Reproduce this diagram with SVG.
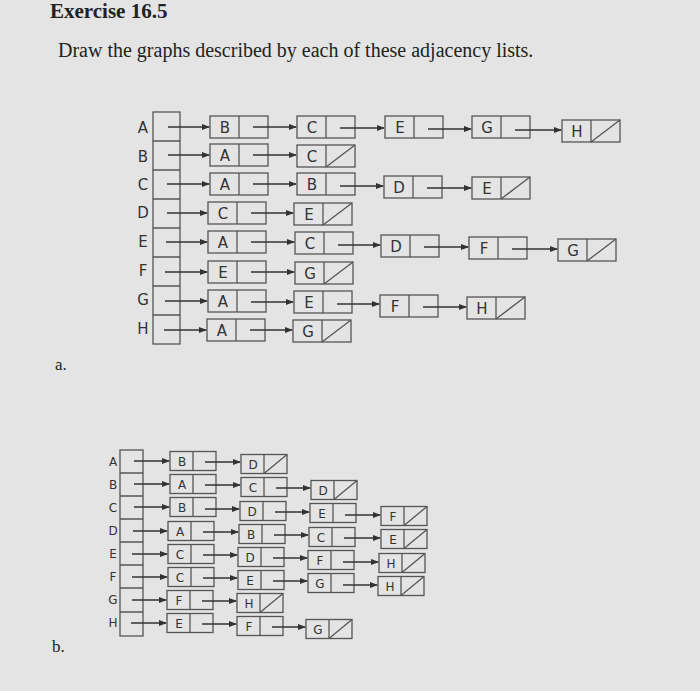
<svg xmlns="http://www.w3.org/2000/svg" xmlns:xlink="http://www.w3.org/1999/xlink" width="700" height="691" viewBox="0 0 700 691">
<style>
.t{font-family:"Liberation Serif",serif;fill:#222}
.bx{fill:none;stroke:#555;stroke-width:1.3}
.ar{stroke:#333;stroke-width:1.6;fill:none;marker-end:url(#m)}
.la{font-family:"DejaVu Sans",sans-serif;font-size:15px;fill:#333;text-anchor:middle}
.lb{font-family:"DejaVu Sans",sans-serif;font-size:12px;fill:#333;text-anchor:middle}
</style>
<defs>
<marker id="m" markerWidth="8" markerHeight="8" refX="7" refY="4" orient="auto" markerUnits="userSpaceOnUse"><path d="M0,1 L8,4 L0,7z" fill="#333"/></marker>
<g id="na"><rect class="bx" x="0" y="-11" width="58" height="22"/><line class="bx" x1="29" y1="-11" x2="29" y2="11"/></g>
<g id="za"><use xlink:href="#na"/><line class="bx" x1="29" y1="11" x2="58" y2="-11"/></g>
<g id="nb"><rect class="bx" x="0" y="-9.5" width="46" height="19"/><line class="bx" x1="23" y1="-9.5" x2="23" y2="9.5"/></g>
<g id="zb"><use xlink:href="#nb"/><line class="bx" x1="23" y1="9.5" x2="46" y2="-9.5"/></g>
</defs>
<rect width="700" height="691" fill="#e4e4e4"/>
<text class="t" x="50" y="18" font-size="21" font-weight="bold">Exercise 16.5</text>
<text class="t" x="58" y="57" font-size="20">Draw the graphs described by each of these adjacency lists.</text>
<text class="t" x="55" y="370" font-size="17">a.</text>
<text class="t" x="52" y="652" font-size="17">b.</text>

<g id="arrayA">
<rect class="bx" x="153" y="112" width="27" height="232"/>
<path class="bx" d="M153,141H180M153,170H180M153,199H180M153,228H180M153,257H180M153,286H180M153,315H180"/>
<g class="la"><text x="143" y="133">A</text><text x="143" y="162">B</text><text x="143" y="190">C</text><text x="143" y="218">D</text><text x="143" y="247">E</text><text x="143" y="276">F</text><text x="143" y="305">G</text><text x="143" y="334">H</text></g>
</g>
<g id="nodesA" class="la">
<use xlink:href="#na" x="210" y="127"/><text x="225" y="133">B</text>
<use xlink:href="#na" x="297" y="127"/><text x="312" y="133">C</text>
<use xlink:href="#na" x="385" y="127"/><text x="400" y="133">E</text>
<use xlink:href="#na" x="472" y="127"/><text x="487" y="133">G</text>
<use xlink:href="#za" x="562" y="131"/><text x="577" y="137">H</text>
<use xlink:href="#na" x="210" y="155"/><text x="225" y="161">A</text>
<use xlink:href="#za" x="297" y="156"/><text x="312" y="162">C</text>
<use xlink:href="#na" x="210" y="184"/><text x="225" y="190">A</text>
<use xlink:href="#na" x="297" y="184"/><text x="312" y="190">B</text>
<use xlink:href="#na" x="384" y="187"/><text x="399" y="193">D</text>
<use xlink:href="#za" x="472" y="188"/><text x="487" y="194">E</text>
<use xlink:href="#na" x="208" y="213"/><text x="223" y="219">C</text>
<use xlink:href="#za" x="294" y="214"/><text x="309" y="220">E</text>
<use xlink:href="#na" x="208" y="242"/><text x="223" y="248">A</text>
<use xlink:href="#na" x="295" y="243"/><text x="310" y="249">C</text>
<use xlink:href="#na" x="381" y="246"/><text x="396" y="252">D</text>
<use xlink:href="#na" x="469" y="248"/><text x="484" y="254">F</text>
<use xlink:href="#za" x="558" y="250"/><text x="573" y="256">G</text>
<use xlink:href="#na" x="208" y="272"/><text x="223" y="278">E</text>
<use xlink:href="#za" x="295" y="273"/><text x="310" y="279">G</text>
<use xlink:href="#na" x="208" y="301"/><text x="223" y="307">A</text>
<use xlink:href="#na" x="294" y="302"/><text x="309" y="308">E</text>
<use xlink:href="#na" x="380" y="306"/><text x="395" y="312">F</text>
<use xlink:href="#za" x="467" y="308"/><text x="482" y="314">H</text>
<use xlink:href="#na" x="207" y="330"/><text x="222" y="336">A</text>
<use xlink:href="#za" x="293" y="331"/><text x="308" y="337">G</text>
</g>

<g id="arrayB">
<rect class="bx" x="120" y="450" width="23" height="186"/>
<path class="bx" d="M120,473H143M120,496H143M120,519H143M120,542H143M120,565H143M120,588H143M120,612H143"/>
<g class="lb"><text x="113" y="466">A</text><text x="113" y="489">B</text><text x="113" y="512">C</text><text x="113" y="535">D</text><text x="113" y="558">E</text><text x="113" y="581">F</text><text x="113" y="604">G</text><text x="113" y="627">H</text></g>
</g>
<g id="nodesB" class="lb">
<use xlink:href="#nb" x="170" y="461"/><text x="182" y="466">B</text>
<use xlink:href="#zb" x="241" y="464"/><text x="253" y="469">D</text>
<use xlink:href="#nb" x="170" y="484"/><text x="182" y="489">A</text>
<use xlink:href="#nb" x="241" y="487"/><text x="253" y="492">C</text>
<use xlink:href="#zb" x="311" y="490"/><text x="323" y="495">D</text>
<use xlink:href="#nb" x="170" y="507"/><text x="182" y="512">B</text>
<use xlink:href="#nb" x="240" y="511"/><text x="252" y="516">D</text>
<use xlink:href="#nb" x="310" y="513"/><text x="322" y="518">E</text>
<use xlink:href="#zb" x="381" y="516"/><text x="393" y="521">F</text>
<use xlink:href="#nb" x="168" y="531"/><text x="180" y="536">A</text>
<use xlink:href="#nb" x="239" y="534"/><text x="251" y="539">B</text>
<use xlink:href="#nb" x="309" y="537"/><text x="321" y="542">C</text>
<use xlink:href="#zb" x="381" y="539"/><text x="393" y="544">E</text>
<use xlink:href="#nb" x="168" y="554"/><text x="180" y="559">C</text>
<use xlink:href="#nb" x="238" y="557"/><text x="250" y="562">D</text>
<use xlink:href="#nb" x="308" y="560"/><text x="320" y="565">F</text>
<use xlink:href="#zb" x="379" y="563"/><text x="391" y="568">H</text>
<use xlink:href="#nb" x="168" y="577"/><text x="180" y="582">C</text>
<use xlink:href="#nb" x="238" y="580"/><text x="250" y="585">E</text>
<use xlink:href="#nb" x="308" y="583"/><text x="320" y="588">G</text>
<use xlink:href="#zb" x="378" y="586"/><text x="390" y="591">H</text>
<use xlink:href="#nb" x="167" y="600"/><text x="179" y="605">F</text>
<use xlink:href="#zb" x="237" y="603"/><text x="249" y="608">H</text>
<use xlink:href="#nb" x="167" y="623"/><text x="179" y="628">E</text>
<use xlink:href="#nb" x="237" y="626"/><text x="249" y="631">F</text>
<use xlink:href="#zb" x="306" y="629"/><text x="318" y="634">G</text>
</g>

<g id="connectors">
<path class="ar" d="M168,127H209"/><path class="ar" d="M253,127H296"/><path class="ar" d="M340,128H384"/><path class="ar" d="M428,129H471"/><path class="ar" d="M515,130H561"/>
<path class="ar" d="M168,155H209"/><path class="ar" d="M253,155H296"/>
<path class="ar" d="M167,184H209"/><path class="ar" d="M253,184H296"/><path class="ar" d="M340,186H383"/><path class="ar" d="M427,188H471"/>
<path class="ar" d="M167,213H207"/><path class="ar" d="M251,213H293"/>
<path class="ar" d="M166,242H207"/><path class="ar" d="M251,242H294"/><path class="ar" d="M338,245H380"/><path class="ar" d="M424,247H468"/><path class="ar" d="M512,249H557"/>
<path class="ar" d="M165,272H207"/><path class="ar" d="M251,272H294"/>
<path class="ar" d="M165,301H207"/><path class="ar" d="M251,302H293"/><path class="ar" d="M337,304H379"/><path class="ar" d="M423,307H466"/>
<path class="ar" d="M164,330H206"/><path class="ar" d="M250,330H292"/>
<path class="ar" d="M134,461H169"/><path class="ar" d="M205,462H240"/>
<path class="ar" d="M134,484H169"/><path class="ar" d="M205,485H240"/><path class="ar" d="M276,488H310"/>
<path class="ar" d="M134,507H169"/><path class="ar" d="M205,509H239"/><path class="ar" d="M275,512H309"/><path class="ar" d="M345,515H380"/>
<path class="ar" d="M133,531H167"/><path class="ar" d="M203,532H238"/><path class="ar" d="M274,535H308"/><path class="ar" d="M344,538H380"/>
<path class="ar" d="M132,554H167"/><path class="ar" d="M203,555H237"/><path class="ar" d="M273,558H307"/><path class="ar" d="M343,562H378"/>
<path class="ar" d="M132,577H167"/><path class="ar" d="M203,578H237"/><path class="ar" d="M273,581H307"/><path class="ar" d="M343,585H377"/>
<path class="ar" d="M132,600H166"/><path class="ar" d="M202,601H236"/>
<path class="ar" d="M131,623H166"/><path class="ar" d="M202,624H236"/><path class="ar" d="M272,627H305"/>
</g>
</svg>
